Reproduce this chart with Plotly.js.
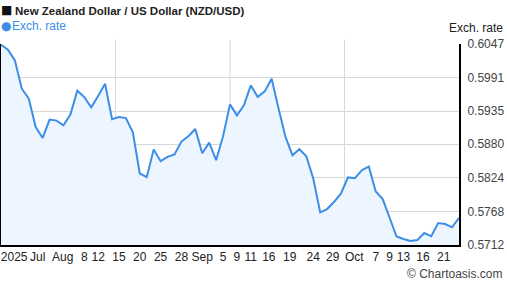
<!DOCTYPE html>
<html>
<head>
<meta charset="utf-8">
<script src="https://cdn.plot.ly/plotly-3.0.1.min.js"></script>
<style>html,body{margin:0;padding:0;background:#fff;}#chart{width:507px;height:288px;}</style>
</head>
<body>
<div id="chart"></div>
<script>
// NZD/USD exchange rate, one value per trading day
const rates = [
  0.60457, 0.60374, 0.60196, 0.59725, 0.59559, 0.59087, 0.58904, 0.59210, 0.59193, 0.59115,
  0.59293, 0.59692, 0.59586, 0.59414, 0.59602, 0.59808, 0.59215, 0.59253, 0.59236, 0.58999,
  0.58312, 0.58251, 0.58711, 0.58517, 0.58588, 0.58628, 0.58844, 0.58932, 0.59054, 0.58650,
  0.58827, 0.58533, 0.58932, 0.59464, 0.59281, 0.59448, 0.59780, 0.59586, 0.59680, 0.59891,
  0.59393, 0.58921, 0.58616, 0.58716, 0.58600, 0.58229, 0.57664, 0.57719, 0.57840, 0.57980,
  0.58246, 0.58234, 0.58367, 0.58428, 0.58013, 0.57885, 0.57574, 0.57261, 0.57220, 0.57187,
  0.57203, 0.57320, 0.57265, 0.57486, 0.57469, 0.57414, 0.57574
];
const dayIndex = rates.map((_, i) => i);

// x tick labels and their positions (trading-day index)
const xTickPos = [1.9, 5.3, 8.9, 12, 14, 17, 20, 23, 26, 29, 32, 34, 36, 38.6, 41.6, 45, 47.8, 50.9, 54, 56, 58, 60.8, 63.8];
const xTickText = ["2025", "Jul", "Aug", "8", "12", "15", "20", "25", "28", "Sep", "5", "9", "11", "16", "19", "24", "29", "Oct", "7", "9", "13", "16", "21"];

// y tick values
const yTicks = [0.5712, 0.5768, 0.5824, 0.5880, 0.5935, 0.5991, 0.6047];

const trace = {
  x: dayIndex,
  y: rates,
  type: 'scatter',
  mode: 'lines',
  line: {color: '#3d8ee6', width: 2},
  fill: 'tozeroy',
  fillcolor: '#edf6fe',
  hoverinfo: 'skip'
};

const fam = 'Arial, "Liberation Sans", sans-serif';

const layout = {
  width: 507, height: 288,
  margin: {l: 1, r: 48, t: 44, b: 43, pad: 0},
  paper_bgcolor: '#fff', plot_bgcolor: '#fff',
  showlegend: false,
  font: {family: fam, size: 12, color: '#222'},
  xaxis: {
    range: [0, rates.length - 1],
    tickvals: xTickPos, ticktext: xTickText,
    showgrid: false, zeroline: false,
    showline: true, linecolor: '#000', linewidth: 2,
    ticks: '', tickfont: {family: fam, size: 12, color: '#222'},
    fixedrange: true
  },
  yaxis: {
    side: 'right',
    range: [0.5712, 0.6047],
    tickvals: yTicks, ticktext: yTicks.map(v => v.toFixed(4)),
    showgrid: true, gridcolor: '#d8d8d8', gridwidth: 1,
    zeroline: false,
    showline: true, linecolor: '#000', linewidth: 2, mirror: true,
    ticks: '', ticklabelstandoff: 4,
    tickfont: {family: fam, size: 12, color: '#444'},
    fixedrange: true
  },
  shapes: [0.25, 0.5, 0.75].map(p => ({
    type: 'line', xref: 'paper', yref: 'paper', x0: p, x1: p, y0: 0, y1: 1.02,
    line: {color: '#d8d8d8', width: 1}, layer: 'below'
  })),
  annotations: [
    {text: '■', xref: 'paper', yref: 'paper', x: 0, y: 0, xanchor: 'left', yanchor: 'middle',
     xshift: -2, yshift: 235, showarrow: false, font: {family: '"DejaVu Sans"', size: 12, color: '#111'}},
    {text: '<b>New Zealand Dollar / US Dollar (NZD/USD)</b>', xref: 'paper', yref: 'paper',
     x: 0, y: 0, xanchor: 'left', yanchor: 'middle', xshift: 12, yshift: 234, showarrow: false,
     font: {family: fam, size: 11.5, color: '#222'}},
    {text: '●', xref: 'paper', yref: 'paper', x: 0, y: 0, xanchor: 'left', yanchor: 'middle',
     xshift: -2, yshift: 219, showarrow: false, font: {family: '"DejaVu Sans"', size: 12, color: '#3d8ee6'}},
    {text: 'Exch. rate', xref: 'paper', yref: 'paper', x: 0, y: 0, xanchor: 'left', yanchor: 'middle',
     xshift: 9, yshift: 219, showarrow: false, font: {family: fam, size: 12, color: '#3d8ee6'}},
    {text: 'Exch. rate', xref: 'paper', yref: 'paper', x: 1, y: 0, xanchor: 'right', yanchor: 'middle',
     xshift: 46, yshift: 217, showarrow: false, font: {family: fam, size: 12, color: '#222'}},
    {text: '© Chartoasis.com', xref: 'paper', yref: 'paper', x: 1, y: 0, xanchor: 'right', yanchor: 'middle',
     xshift: 46, yshift: -29, showarrow: false, font: {family: fam, size: 12, color: '#444'}}
  ]
};

Plotly.newPlot('chart', [trace], layout, {displayModeBar: false, staticPlot: true});
</script>
</body>
</html>
